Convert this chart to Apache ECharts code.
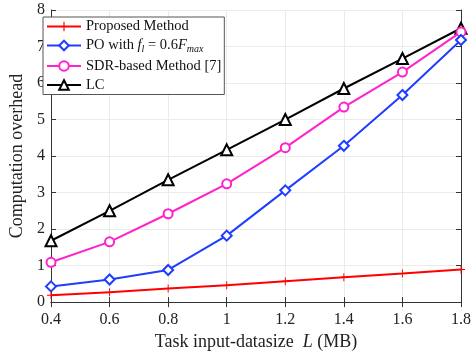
<!DOCTYPE html>
<html><head><meta charset="utf-8">
<script src="https://cdn.jsdelivr.net/npm/echarts@6/dist/echarts.min.js"></script>
<style>html,body{margin:0;padding:0;background:#fff}#c{width:474px;height:356px}</style>
</head><body><div id="c"></div>
<script>
const categories = [0.4, 0.6, 0.8, 1.0, 1.2, 1.4, 1.6, 1.8];
const proposed = [0.19, 0.27, 0.37, 0.46, 0.57, 0.68, 0.78, 0.89];
const po = [0.43, 0.62, 0.88, 1.82, 3.06, 4.28, 5.67, 7.18];
const sdr = [1.09, 1.65, 2.42, 3.24, 4.23, 5.34, 6.30, 7.40];
const lc = [1.68, 2.50, 3.35, 4.17, 5.00, 5.85, 6.67, 7.50];
const xTicks = ['0.4','0.6','0.8','1','1.2','1.4','1.6','1.8'];
const yTicks = ['0','1','2','3','4','5','6','7','8'];

const pair = arr => categories.map((x, i) => [x, arr[i]]);
const font = 'Liberation Serif';
const plusPath = 'path://M-0.6,-5h1.2v10h-1.2z M-5,-0.6h10v1.2h-10z';

const chart = echarts.init(document.getElementById('c'));
const axisCommon = {
  axisLine: {show: true, lineStyle: {color: '#333', width: 1}},
  axisTick: {show: true, inside: true, length: 5, lineStyle: {color: '#333'}},
};
chart.setOption({
  animation: false,
  textStyle: {fontFamily: font},
  grid: {left: 37, right: 11, top: 10, bottom: 46, show: false},
  legend: {
    left: 43, top: 17, orient: 'vertical', itemGap: 4, itemWidth: 34, itemHeight: 12,
    backgroundColor: '#fff', borderColor: '#555', borderWidth: 1, padding: [2, 3, 2, 3],
    textStyle: {fontFamily: font, fontSize: 14.5, color: '#111',
      rich: {
        n: {fontFamily: font, fontSize: 14.5, color: '#111'},
        i: {fontFamily: font, fontSize: 14.5, fontStyle: 'italic', color: '#111'},
        s: {fontFamily: font, fontSize: 10, fontStyle: 'italic', color: '#111', verticalAlign: 'bottom', padding: [8, 0, 0, 0]}
      }},
    formatter: name => name === 'PO' ? '{n|PO with }{i|f}{s|l}{n| = 0.6}{i|F}{s|max}' : name,
    data: ['Proposed Method', 'PO', 'SDR-based Method [7]', 'LC']
  },
  xAxis: [{
    type: 'value', min: 0.4, max: 1.8, interval: 0.2, ...axisCommon,
    splitLine: {show: true, lineStyle: {color: '#ebebeb'}},
    axisLabel: {fontFamily: font, fontSize: 16, color: '#222', margin: 10,
      formatter: v => xTicks[Math.round((v - 0.4) / 0.2)]},
    name: 'Task input-datasize  {i|L} (MB)', nameLocation: 'middle', nameGap: 30,
    nameTextStyle: {fontFamily: font, fontSize: 18, color: '#222',
      rich: {i: {fontFamily: font, fontSize: 18, fontStyle: 'italic', color: '#222'}}}
  }, {
    type: 'value', position: 'top', min: 0.4, max: 1.8, interval: 0.2, ...axisCommon,
    axisLabel: {show: false}, splitLine: {show: false}
  }],
  yAxis: [{
    type: 'value', min: 0, max: 8, interval: 1, ...axisCommon,
    splitLine: {show: true, lineStyle: {color: '#ebebeb'}},
    axisLabel: {fontFamily: font, fontSize: 16, color: '#222', margin: 6,
      formatter: v => yTicks[Math.round(v)]},
    name: 'Computation overhead', nameLocation: 'middle', nameGap: 25,
    nameTextStyle: {fontFamily: font, fontSize: 18, color: '#222'}
  }, {
    type: 'value', position: 'right', min: 0, max: 8, interval: 1, ...axisCommon,
    axisLabel: {show: false}, splitLine: {show: false}
  }],
  series: [
    {name: 'Proposed Method', type: 'line', data: pair(proposed), color: '#ff0000',
      lineStyle: {width: 2}, symbol: plusPath, symbolSize: 8, showAllSymbol: true,
      itemStyle: {color: '#ff0000'}, z: 5},
    {name: 'PO', type: 'line', data: pair(po), color: '#1f3dff',
      lineStyle: {width: 2}, symbol: 'emptyDiamond', symbolSize: 10,
      itemStyle: {color: '#1f3dff', borderWidth: 1.5}, z: 4},
    {name: 'SDR-based Method [7]', type: 'line', data: pair(sdr), color: '#ff22cc',
      lineStyle: {width: 2}, symbol: 'emptyCircle', symbolSize: 9,
      itemStyle: {color: '#ff22cc', borderWidth: 1.5}, z: 3},
    {name: 'LC', type: 'line', data: pair(lc), color: '#000',
      lineStyle: {width: 2}, symbol: 'emptyTriangle', symbolSize: 11,
      itemStyle: {color: '#000', borderWidth: 1.8}, z: 2}
  ]
});
</script></body></html>
